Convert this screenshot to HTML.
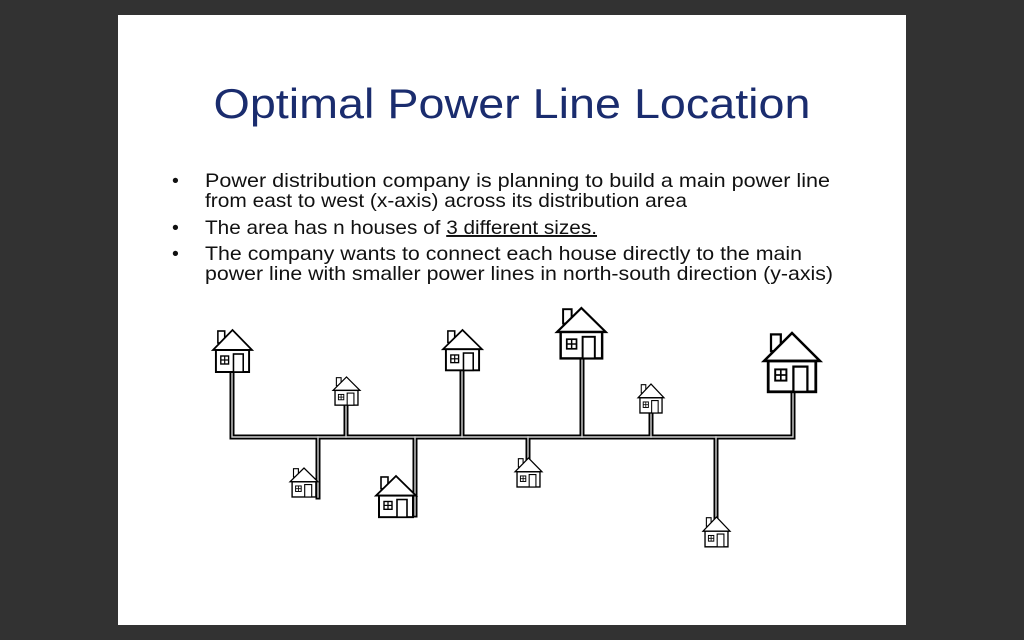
<!DOCTYPE html>
<html><head><meta charset="utf-8"><style>
html,body{margin:0;padding:0;background:#323232;}
svg{display:block}
</style></head><body>
<svg width="1024" height="640" viewBox="0 0 1024 640" xmlns="http://www.w3.org/2000/svg">
<defs>
<g id="h">
 <rect x="5" y="1" width="7" height="12" fill="#fff" stroke="#000" stroke-width="1.6"/>
 <polygon points="0,20 20,0 40,20" fill="#fff" stroke="#000" stroke-width="1.8" stroke-linejoin="miter"/>
 <rect x="3" y="20" width="34" height="22" fill="#fff" stroke="#000" stroke-width="2"/>
 <rect x="8" y="26" width="8" height="8" fill="#fff" stroke="#000" stroke-width="1.4"/>
 <line x1="12" y1="26" x2="12" y2="34" stroke="#000" stroke-width="1.2"/>
 <line x1="8" y1="30" x2="16" y2="30" stroke="#000" stroke-width="1.2"/>
 <rect x="21" y="24" width="10" height="18" fill="#fff" stroke="#000" stroke-width="1.6"/>
</g>
</defs>
<rect x="118" y="15" width="788" height="610" fill="#fff"/>
<text x="512" y="118" text-anchor="middle" font-family="Liberation Sans, sans-serif" font-size="42" fill="#1a2c6e" textLength="597" lengthAdjust="spacingAndGlyphs">Optimal Power Line Location</text>
<g font-family="Liberation Sans, sans-serif" font-size="19.5" fill="#111">
<text x="172" y="187">•</text><text x="172" y="234">•</text><text x="172" y="260">•</text>
<text x="205" y="187" textLength="625" lengthAdjust="spacingAndGlyphs">Power distribution company is planning to build a main power line</text>
<text x="205" y="207" textLength="482" lengthAdjust="spacingAndGlyphs">from east to west (x-axis) across its distribution area</text>
<text x="205" y="234" textLength="392" lengthAdjust="spacingAndGlyphs">The area has n houses of <tspan text-decoration="underline">3 different sizes.</tspan></text>
<text x="205" y="260" textLength="597" lengthAdjust="spacingAndGlyphs">The company wants to connect each house directly to the main</text>
<text x="205" y="280" textLength="628" lengthAdjust="spacingAndGlyphs">power line with smaller power lines in north-south direction (y-axis)</text>
</g>
<g fill="none" stroke-linecap="square">
<g stroke="#000" stroke-width="5">
<path d="M232 372V437H793V392"/>
<path d="M346 405V437M462 370V437M582 359V437M651 413V437"/>
<path d="M318 437V497M415 437V515M528 437V458M716 437V517"/>
</g>
<g stroke="#d0d0d0" stroke-width="1.4">
<path d="M232 372V437H793V392"/>
<path d="M346 405V437M462 370V437M582 359V437M651 413V437"/>
<path d="M318 437V497M415 437V515M528 437V458M716 437V517"/>
</g>
</g>
<use href="#h" transform="translate(213,330) scale(0.975,1)"/>
<use href="#h" transform="translate(333,377) scale(0.675,0.67)"/>
<use href="#h" transform="translate(443,330) scale(0.975,0.96)"/>
<use href="#h" transform="translate(557,308) scale(1.22,1.2)"/>
<use href="#h" transform="translate(638,384) scale(0.65,0.69)"/>
<use href="#h" transform="translate(764,333) scale(1.4,1.4)"/>
<use href="#h" transform="translate(290,468) scale(0.7,0.69)"/>
<use href="#h" transform="translate(376,476) scale(1,0.98)"/>
<use href="#h" transform="translate(515,458) scale(0.675,0.69)"/>
<use href="#h" transform="translate(703,517) scale(0.675,0.71)"/>
</svg>
</body></html>
